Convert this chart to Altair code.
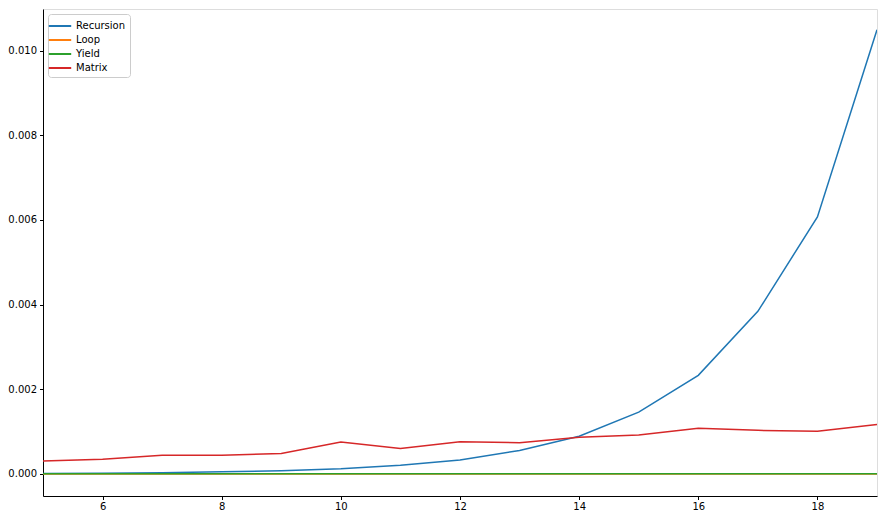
import altair as alt
import pandas as pd

x_vals = list(range(5, 20))
recursion = [0.000012, 0.00002, 0.00003, 0.00005, 0.000078, 0.000125, 0.000204, 0.00033,
             0.000557, 0.00089, 0.00146, 0.00233, 0.00384, 0.00607, 0.01049]
loop = [0.000002] * 15
yield_ = [0.000003] * 15
matrix = [0.000306, 0.00035, 0.00044, 0.00044, 0.000486, 0.000753, 0.000604, 0.00076,
          0.000737, 0.00087, 0.000918, 0.00108, 0.00103, 0.00101, 0.00117]

series_names = ["Recursion", "Loop", "Yield", "Matrix"]
series_values = [recursion, loop, yield_, matrix]
colors = ["#1f77b4", "#ff7f0e", "#2ca02c", "#d62728"]

rows = []
for name, vals in zip(series_names, series_values):
    for xv, yv in zip(x_vals, vals):
        rows.append({"n": xv, "time": yv, "method": name})
df = pd.DataFrame(rows)

font = "DejaVu Sans"

chart = alt.Chart(df).mark_line(strokeWidth=1.5, clip=True).encode(
    x=alt.X("n:Q", title=None,
            scale=alt.Scale(domain=[5, 19], nice=False, zero=False),
            axis=alt.Axis(values=[6, 8, 10, 12, 14, 16, 18], grid=False, format="d",
                          domainColor="black", tickColor="black", tickSize=3.5,
                          labelColor="black", labelFontSize=10, labelFont=font,
                          labelPadding=2, labelFlush=False)),
    y=alt.Y("time:Q", title=None,
            scale=alt.Scale(domain=[-0.00052, 0.01098], nice=False, zero=False),
            axis=alt.Axis(values=[0, 0.002, 0.004, 0.006, 0.008, 0.010], grid=False,
                          format=".3f", domainColor="black", tickColor="black",
                          tickSize=3.5, labelColor="black", labelFontSize=10,
                          labelFont=font, labelPadding=3, labelFlush=False)),
    color=alt.Color("method:N",
                    scale=alt.Scale(domain=series_names, range=colors),
                    sort=series_names,
                    legend=alt.Legend(title=None, orient="top-left", offset=5,
                                      symbolType="M-1.6,0H1.6", symbolStrokeWidth=2,
                                      symbolSize=196, labelFontSize=10,
                                      labelFont=font, labelColor="black",
                                      labelOffset=8,
                                      fillColor="white", strokeColor="#cccccc",
                                      cornerRadius=3, padding=4, rowPadding=1,
                                      symbolOpacity=1)),
    order=alt.Order("n:Q"),
).properties(
    width=834,
    height=487,
    autosize=alt.AutoSizeParams(type="none"),
    padding={"left": 35, "top": 1, "right": 1, "bottom": 16},
).configure_view(
    stroke="black", strokeWidth=1
).configure(background="white")

chart.save("out.html", embed_options={"renderer": "svg", "actions": False})
